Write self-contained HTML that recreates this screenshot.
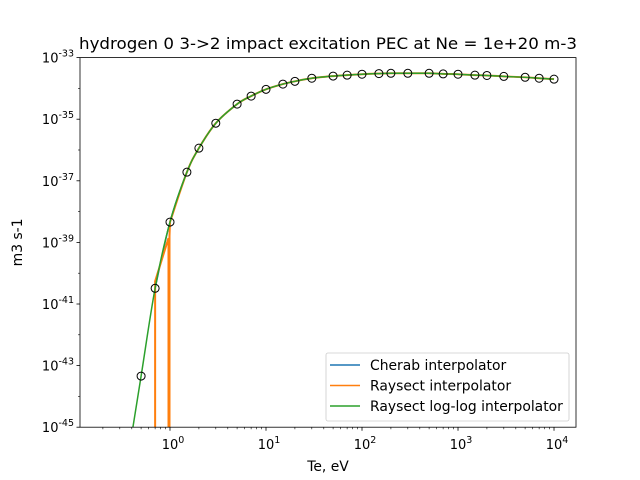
<!DOCTYPE html>
<html><head><meta charset="utf-8"><style>
body{margin:0;background:#fff;}
svg{display:block;font-family:"DejaVu Sans","Liberation Sans",sans-serif;}
</style></head><body>
<svg id="chart" width="640" height="480">
<rect width="640" height="480" fill="#fff"/>
<g id="plot"></g>
</svg>
<script>
const teValues=[0.5,0.7,1,1.5,2,3,5,7,10,15,20,30,50,70,100,150,200,300,500,700,1000,1500,2000,3000,5000,7000,10000];
const logPec=[-43.34,-40.49,-38.34,-36.72,-35.94,-35.13,-34.51,-34.25,-34.03,-33.86,-33.77,-33.67,-33.60,-33.57,-33.54,-33.52,-33.51,-33.51,-33.51,-33.53,-33.54,-33.57,-33.58,-33.61,-33.64,-33.67,-33.70];
const xTickExps=[0,1,2,3,4];
const yTickExps=[-45,-43,-41,-39,-37,-35,-33];
const legendLabels=["Cherab interpolator","Raysect interpolator","Raysect log-log interpolator"];
const colors=["#1f77b4","#ff7f0e","#2ca02c"];
const L=80,R=576,T=57.6,B=427.2;
const xmin=Math.log10(0.1155),xmax=4.229;
const X=v=>L+(Math.log10(v)-xmin)/(xmax-xmin)*(R-L);
const Y=ly=>B-(ly+45)/12*(B-T);
const NS="http://www.w3.org/2000/svg";
const g=document.getElementById('plot');
function el(t,a,p){const e=document.createElementNS(NS,t);for(const k in a)e.setAttribute(k,a[k]);(p||g).appendChild(e);return e;}
const defs=el('defs',{});const cp=el('clipPath',{id:'c'},defs);el('rect',{x:L,y:T,width:R-L,height:B-T},cp);
const lines=el('g',{'clip-path':'url(#c)'});
const pts=teValues.map((t,i)=>[X(t),Y(logPec[i])]);
const slope=(logPec[1]-logPec[0])/(Math.log10(0.7)-Math.log10(0.5));
const xs=Math.log10(0.5)-(logPec[0]+45.5)/slope;
const ext=[X(Math.pow(10,xs)),Y(-45.5)];
const all=[ext].concat(pts);
function cr(p){let d=`M${p[0][0]},${p[0][1]}`;for(let i=0;i<p.length-1;i++){const p0=p[Math.max(i-1,0)],p1=p[i],p2=p[i+1],p3=p[Math.min(i+2,p.length-1)];
d+=`C${p1[0]+(p2[0]-p0[0])/6},${p1[1]+(p2[1]-p0[1])/6} ${p2[0]-(p3[0]-p1[0])/6},${p2[1]-(p3[1]-p1[1])/6} ${p2[0]},${p2[1]}`;}return d;}
const sub=pts.slice(1);
const blue=el('path',{d:cr(sub),fill:'none',stroke:colors[0],'stroke-width':1.5},lines);

const p07=pts[1],p1=pts[2];
const od=`M${p07[0]},${B+5}L${p07[0]},${p07[1]-7}L${p1[0]-1.5},${p1[1]+16}L${p1[0]-1.5},${B+5}M${p1[0]-0.5},${B+5}L${p1[0]-0.5},${p1[1]+14}`+cr(pts.slice(2)).replace('M','L');
const orange=el('path',{d:od,fill:'none',stroke:colors[1],'stroke-width':2},lines);

const green=el('path',{d:cr(all),fill:'none',stroke:colors[2],'stroke-width':1.5},lines);

pts.forEach(p=>{const c=el('circle',{cx:p[0],cy:p[1],r:4,fill:'none',stroke:'#000','stroke-width':1});
});
const fr=el('rect',{x:L,y:T,width:R-L,height:B-T,fill:'none',stroke:'#000','stroke-width':0.8});

for(let e=-1;e<=4;e++){for(let m=1;m<10;m++){const v=m*Math.pow(10,e);const x=X(v);if(x<L||x>R)continue;
const major=m===1&&xTickExps.includes(e);el('line',{x1:x,x2:x,y1:B,y2:B+(major?3.5:2),stroke:'#000','stroke-width':major?0.8:0.6});}}
xTickExps.forEach(e=>{const t=el('text',{x:X(Math.pow(10,e))+3,y:B+22,'text-anchor':'middle','font-size':13});

t.innerHTML=`10<tspan dy="-6" font-size="9.5">${e}</tspan>`;});
for(let e=-45;e<=-33;e++){const y=Y(e);const major=yTickExps.includes(e);el('line',{x1:L,x2:L-(major?3.5:2),y1:y,y2:y,stroke:'#000','stroke-width':major?0.8:0.6});}
yTickExps.forEach(e=>{const t=el('text',{x:L-6,y:Y(e)+5,'text-anchor':'end','font-size':13});

t.innerHTML=`10<tspan dy="-6" font-size="9.5">${e}</tspan>`;});
const xt=el('text',{x:(L+R)/2,y:471,'text-anchor':'middle','font-size':13.9});xt.textContent='Te, eV';

const yt=el('text',{x:22,y:(T+B)/2,'text-anchor':'middle','font-size':13.9,transform:`rotate(-90 22 ${(T+B)/2})`});yt.textContent='m3 s-1';

const ti=el('text',{x:79,y:49,'font-size':16,textLength:498,lengthAdjust:'spacingAndGlyphs'});ti.textContent='hydrogen 0 3->2 impact excitation PEC at Ne = 1e+20 m-3';

const lg=el('g',{});
el('rect',{x:326,y:353,width:243,height:68,rx:2,fill:'#fff','fill-opacity':0.8,stroke:'#ccc','stroke-width':0.8},lg);
legendLabels.forEach((s,i)=>{const y=365+i*20.5;const e=el('g',{},lg);

el('line',{x1:330,x2:360,y1:y,y2:y,stroke:colors[i],'stroke-width':1.5},e);
const t=el('text',{x:370,y:y+5,'font-size':13.9},e);t.textContent=s;});
</script>
</body></html>
